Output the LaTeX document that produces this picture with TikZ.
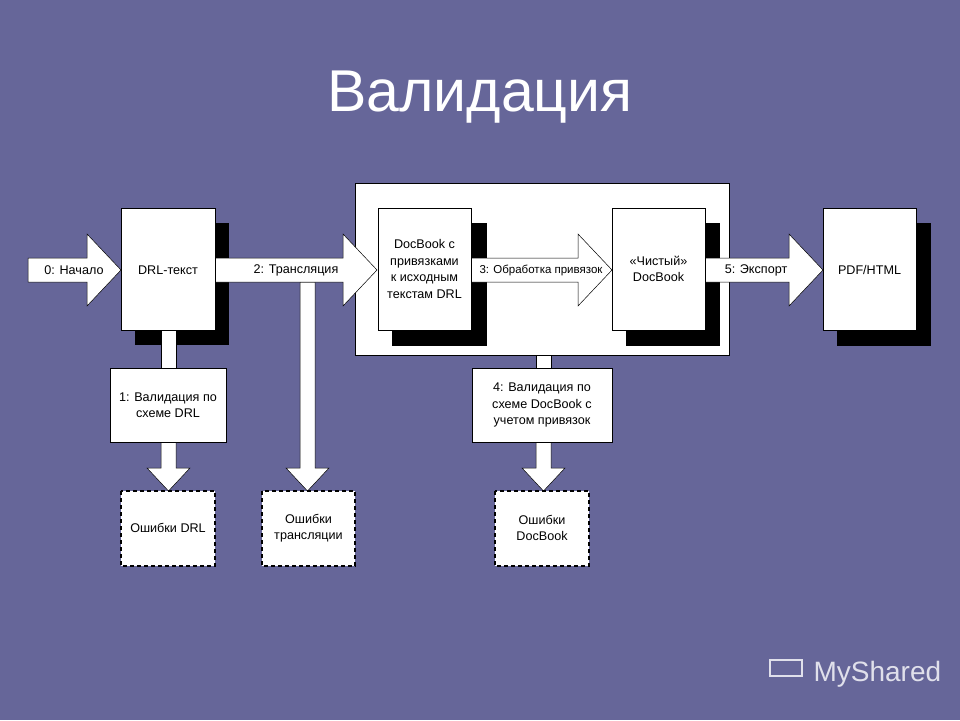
\documentclass[tikz,border=0pt]{standalone}
\usepackage{fontspec}
\setmainfont{Liberation Sans}
\definecolor{bgc}{RGB}{102,102,153}
\newcommand{\harr}[3]{\filldraw[arr] (#1,258)--(#2,258)--(#2,234)--(#3,270)--(#2,306)--(#2,282)--(#1,282)--cycle;}
\newcommand{\varr}[4]{\filldraw[arr] (#1-7.5,#2)--(#1-7.5,#3)--(#1-21.5,#3)--(#1,#4)--(#1+21.5,#3)--(#1+7.5,#3)--(#1+7.5,#2)--cycle;}
\begin{document}
\begin{tikzpicture}[x=1pt,y=-1pt,
 arr/.style={fill=white,draw=black,line width=0.5pt},
 doc/.style={fill=white,draw=black,line width=0.6pt},
 shd/.style={fill=black},
 err/.style={fill=white,draw=black,line width=1.2pt,dash pattern=on 4pt off 3pt},
 lbl/.style={font=\fontsize{12.6}{16.5}\selectfont,align=center,inner sep=0pt},
 slbl/.style={font=\fontsize{11.5}{14}\selectfont,align=center,inner sep=0pt}]
\fill[bgc] (0,0) rectangle (960,720);
\useasboundingbox (0,0) rectangle (960,720);
\node[font=\fontsize{59}{66}\selectfont,text=white] (title) at (480,97) {Валидация};
% frame
\fill[white,draw=black,line width=0.4pt] (355,183) rectangle (729,355);
% shadows
\fill[shd] (135,223) rectangle (229,345);
\fill[shd] (392,223) rectangle (487,346);
\fill[shd] (626,223) rectangle (720,346);
\fill[shd] (837,223) rectangle (931,346);
% vertical arrows
\filldraw[arr] (161,330) rectangle (176,368);
\varr{168.5}{442}{468}{491}
\varr{307.5}{282}{468}{491}
\filldraw[arr] (536,355) rectangle (551,368);
\varr{543.5}{442}{468}{491}
% horizontal arrows
\harr{28}{87}{121}
\harr{215}{343}{377}
\harr{471}{578}{612}
\harr{705}{789}{823}
% boxes
\draw[doc] (121,208) rectangle (215,330);
\draw[doc] (378,208) rectangle (471,330);
\draw[doc] (612,208) rectangle (705,330);
\draw[doc] (823,208) rectangle (916,330);
\draw[doc] (110,368) rectangle (226,442);
\draw[doc] (472,368) rectangle (612,442);
\draw[err] (121,491) rectangle (215,566);
\draw[err] (262,491) rectangle (355,566);
\draw[err] (495,491) rectangle (589,566);
% labels
\node[lbl] (l0) at (74,270) {0: Начало};
\node[lbl] (drl) at (168,270) {DRL-текст};
\node[lbl] (l2) at (296,270) {2: Трансляция};
\node[lbl] (db) at (424.5,269) {DocBook с\\привязками\\к исходным\\текстам DRL};
\node[slbl] (l3) at (541,270) {3: Обработка привязок};
\node[lbl] (cl) at (658.5,269) {«Чистый»\\DocBook};
\node[lbl] (l5) at (756,270) {5: Экспорт};
\node[lbl] (pdf) at (869.5,270) {PDF/HTML};
\node[lbl] (v1) at (168,405) {1: Валидация по\\схеме DRL};
\node[lbl] (v4) at (542,405) {4: Валидация по\\схеме DocBook с\\учетом привязок};
\node[lbl] (e1) at (168,528) {Ошибки DRL};
\node[lbl] (e2) at (308.5,528) {Ошибки\\трансляции};
\node[lbl] (e3) at (542,528) {Ошибки\\DocBook};
\node[font=\fontsize{28}{30}\selectfont,text=white!80!bgc,anchor=west] (ms) at (810,674) {MyShared};
\draw[white!80!bgc,line width=2pt] (770,660) rectangle (802,676);
\end{tikzpicture}
\end{document}
